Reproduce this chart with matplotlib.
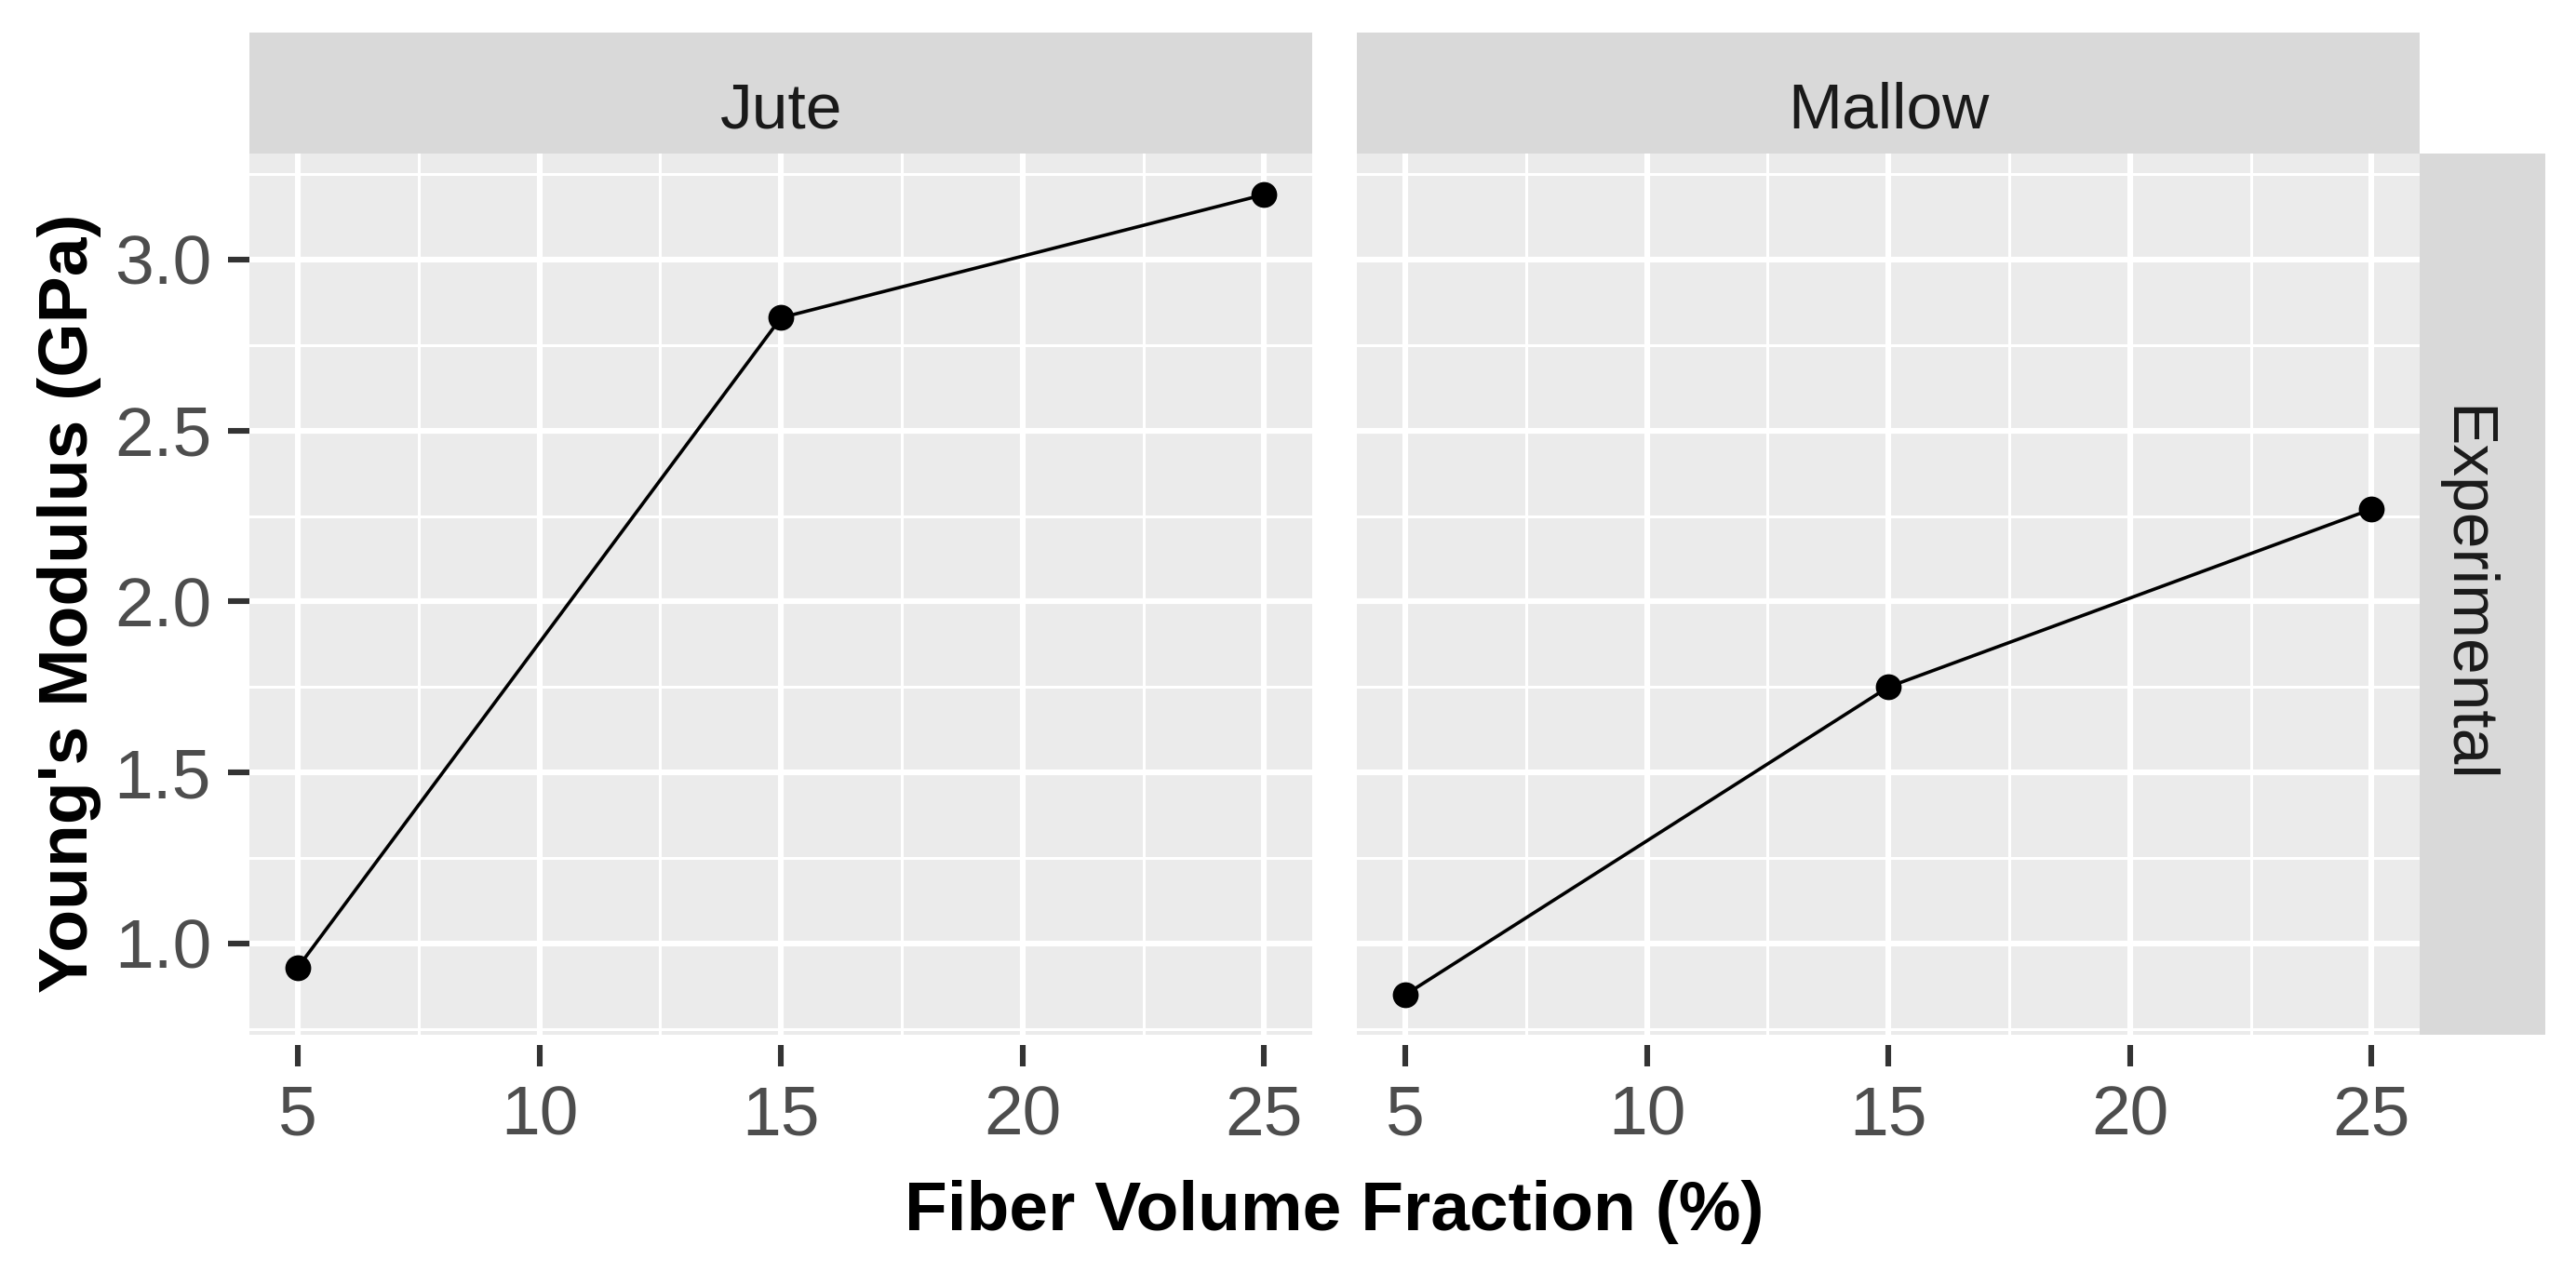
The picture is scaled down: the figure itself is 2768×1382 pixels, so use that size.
import numpy as np
import matplotlib.pyplot as plt

# data
fibers = ["Jute", "Mallow"]
volume_fraction = [5, 15, 25]
jute_modulus = [0.93, 2.83, 3.19]
mallow_modulus = [0.85, 1.75, 2.27]
row_label = "Experimental"
y_ticks = [1.0, 1.5, 2.0, 2.5, 3.0]
x_ticks = [5, 10, 15, 20, 25]

plt.rcParams['font.family'] = ['Liberation Sans', 'DejaVu Sans']

fig = plt.figure(figsize=(13.84, 6.91), dpi=200)

bg = "#EBEBEB"
strip_bg = "#D9D9D9"

lefts = [0.0969, 0.5268]
width = 0.4126
bottom = 0.1954
top = 0.8806
height = top - bottom
strip_top = 0.9745


def strip_axes(rect):
    sx = fig.add_axes(rect)
    sx.set_facecolor(strip_bg)
    sx.set_xticks([])
    sx.set_yticks([])
    for s in sx.spines.values():
        s.set_visible(False)
    return sx


for i, (name, vals) in enumerate(zip(fibers, [jute_modulus, mallow_modulus])):
    ax = fig.add_axes([lefts[i], bottom, width, height])
    ax.set_facecolor(bg)
    for s in ax.spines.values():
        s.set_visible(False)
    ax.spines['bottom'].set_position(('outward', 3.8))
    ax.set_xlim(4, 26)
    ax.set_ylim(0.733, 3.31)
    ax.set_xticks(x_ticks)
    ax.set_xticks([7.5, 12.5, 17.5, 22.5], minor=True)
    ax.set_yticks(y_ticks)
    ax.set_yticks([0.75, 1.25, 1.75, 2.25, 2.75, 3.25], minor=True)
    ax.grid(which="major", color="white", linewidth=2.2)
    ax.grid(which="minor", color="white", linewidth=1.1)
    ax.set_axisbelow(True)
    ax.tick_params(which="major", length=8.3, width=2.2, color="#333333",
                   labelsize=27, labelcolor="#4D4D4D")
    ax.tick_params(axis="x", pad=7)
    ax.tick_params(axis="y", pad=6.5)
    ax.tick_params(which="minor", length=0)
    ax.plot(volume_fraction, vals, color="black", linewidth=1.3,
            marker="o", markersize=9, zorder=3)
    if i == 0:
        ax.set_yticklabels([f"{v:.1f}" for v in y_ticks])
    else:
        ax.set_yticklabels([])
        ax.tick_params(axis="y", length=0)
    sx = strip_axes([lefts[i], top, width, strip_top - top])
    sx.text(0.5, 0.21, name, ha="center", va="baseline", fontsize=25,
            color="#1A1A1A", transform=sx.transAxes)

rx = strip_axes([lefts[1] + width, bottom, 0.988 - lefts[1] - width, height])
rx.text(0.22, 0.5, row_label, ha="center", va="baseline", fontsize=25,
        color="#1A1A1A", rotation=-90, rotation_mode="anchor",
        transform=rx.transAxes)

fig.text(0.518, 0.0575, "Fiber Volume Fraction (%)", ha="center", va="center",
         fontsize=27, fontweight="bold")
fig.text(0.0268, 0.531, "Young's Modulus (GPa)", ha="center", va="center",
         fontsize=27, fontweight="bold", rotation=90)

fig.savefig("out.png", dpi=200, facecolor="white")
